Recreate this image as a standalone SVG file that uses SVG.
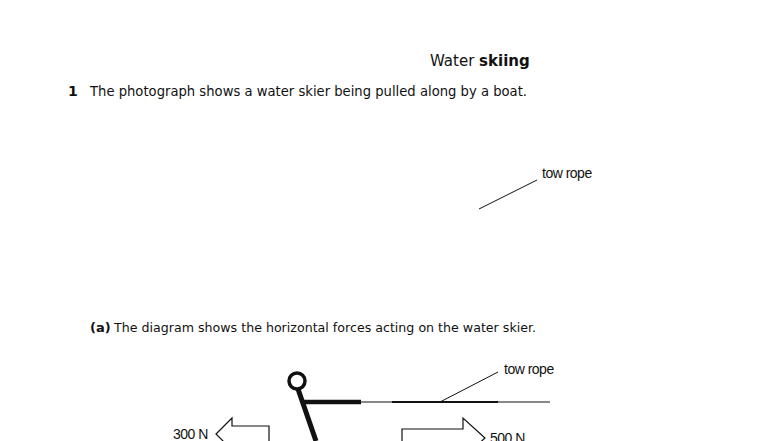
<svg xmlns="http://www.w3.org/2000/svg" width="784" height="441" viewBox="0 0 784 441">
<style>
.t{font-family:"DejaVu Sans","Noto Sans",sans-serif;fill:#111}
.a{font-family:"Liberation Sans",Arial,sans-serif;fill:#111;font-size:14px;letter-spacing:-0.5px}
.th{stroke:#111;fill:none}
</style>
<rect width="784" height="441" fill="#fff"/>
<text class="t" x="430" y="66" font-size="15">Water <tspan font-weight="bold">skiing</tspan></text>
<text class="t" x="68" y="96" font-size="14" font-weight="bold">1</text>
<text class="t" x="90" y="96" font-size="14" textLength="437" lengthAdjust="spacingAndGlyphs">The photograph shows a water skier being pulled along by a boat.</text>
<g id="photo-label">
<text class="a" x="542" y="178">tow rope</text>
<line class="th" x1="479" y1="209" x2="537" y2="180" stroke-width="1"/>
</g>
<text class="t" x="90" y="332" font-size="13" font-weight="bold">(a)</text>
<text class="t" x="114" y="332" font-size="13" textLength="422" lengthAdjust="spacingAndGlyphs">The diagram shows the horizontal forces acting on the water skier.</text>
<g id="skier">
<circle class="th" cx="297" cy="381" r="8" stroke-width="3.5"/>
<line class="th" x1="298" y1="389" x2="316" y2="441" stroke-width="5"/>
<line class="th" x1="301" y1="402" x2="361" y2="402" stroke-width="4.5"/>
</g>
<g id="rope">
<line class="th" x1="361" y1="402" x2="550" y2="402" stroke-width="1"/>
<line class="th" x1="392" y1="402" x2="498" y2="402" stroke-width="2"/>
<line class="th" x1="440" y1="402" x2="498" y2="372" stroke-width="1"/>
<text class="a" x="504" y="374">tow rope</text>
</g>
<g id="force-300">
<polyline class="th" points="269,446 269,426 232,426 232,418 216,434 232,450" stroke-width="1.2"/>
<text class="a" x="173" y="439" font-size="12">300 N</text>
</g>
<g id="force-500">
<polyline class="th" points="402,446 402,429 463,429 463,418 485,438 463,458" stroke-width="1.2"/>
<text class="a" x="490" y="443" font-size="12">500 N</text>
</g>
</svg>
